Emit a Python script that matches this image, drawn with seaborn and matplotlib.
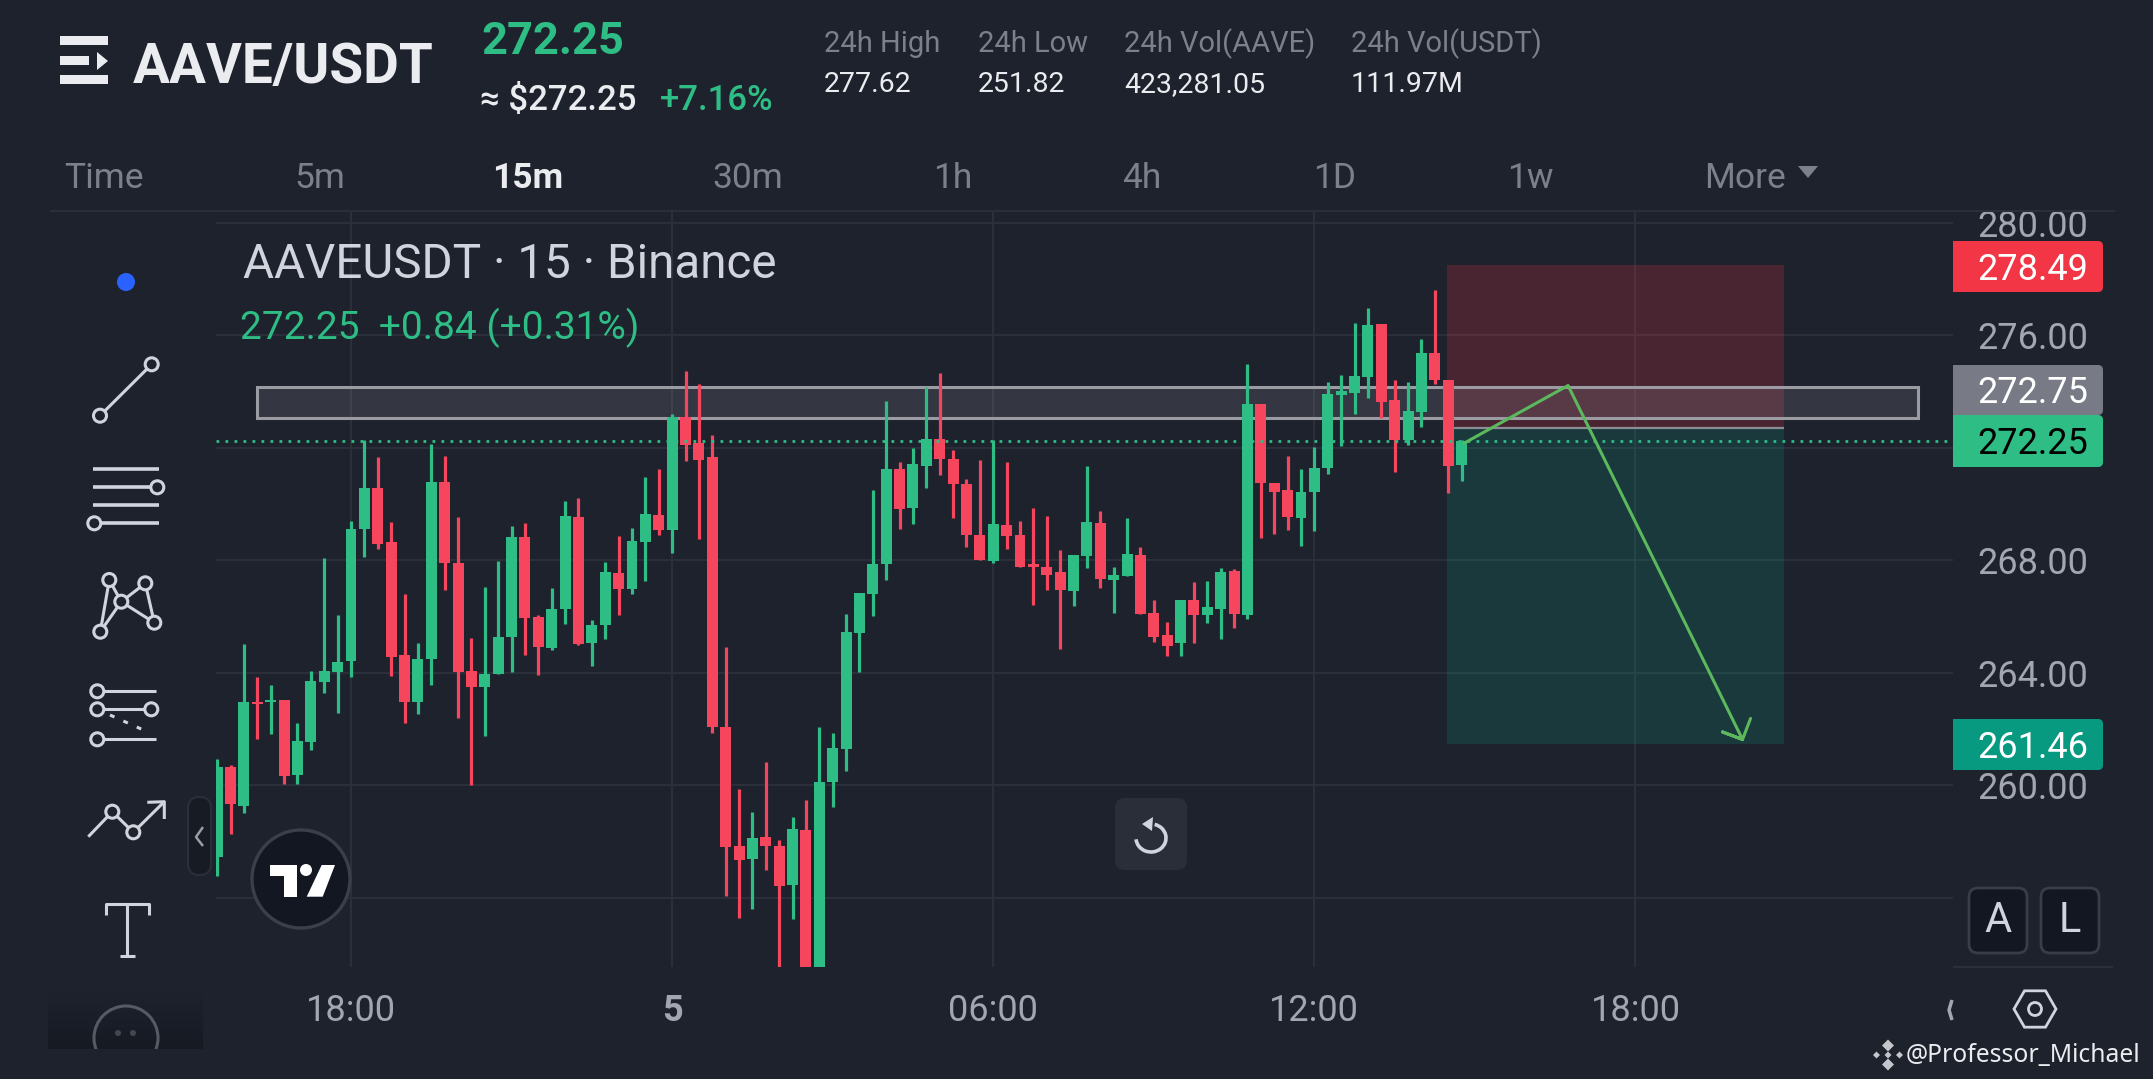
import numpy as np
import pandas as pd
import matplotlib
matplotlib.use("Agg")
import matplotlib.pyplot as plt
from matplotlib.patches import Circle, Rectangle, FancyBboxPatch, Polygon, Arc
import seaborn as sns

# candles, 15 min each, index 10 = 18:00
opens = [257.45,260.66,259.26,262.96,262.95,263.03,260.37,261.53,263.68,264.03,
         264.44,269.10,270.58,268.64,264.63,262.96,264.49,270.80,267.91,264.06,
         263.49,263.95,265.27,268.83,265.98,264.87,266.27,269.55,265.06,265.70,
         267.56,266.99,268.66,269.63,269.09,273.09,272.19,271.69,262.09,257.86,
         257.38,258.15,257.86,256.45,258.40,253.00,260.12,261.29,265.43,266.81,
         267.86,271.26,269.87,271.36,272.33,271.61,270.72,268.91,267.99,269.26,
         268.91,267.86,267.77,267.59,266.92,268.16,269.34,267.32,267.45,268.20,
         266.13,265.35,265.06,266.59,266.06,266.27,267.62,266.05,273.55,270.77,
         270.49,269.49,270.42,271.29,273.87,273.97,274.51,276.39,273.69,272.27,
         273.26,275.39,274.43,271.41]
closes = [260.66,259.34,262.96,262.88,263.03,260.34,261.57,263.71,264.06,264.38,
          269.12,270.58,268.59,264.57,262.96,264.51,270.80,267.89,264.03,263.49,
          263.95,265.27,268.83,265.95,264.92,266.26,269.58,265.01,265.70,267.59,
          266.99,268.69,269.66,269.09,273.09,272.11,271.58,262.07,257.80,257.35,
          258.11,257.83,256.41,258.43,253.00,260.12,261.32,265.46,266.84,267.88,
          271.26,269.83,271.44,272.33,271.61,270.71,268.91,268.02,269.31,268.88,
          267.77,267.75,267.48,266.95,268.20,269.37,267.35,267.48,268.23,266.10,
          265.27,264.95,266.59,266.06,266.35,267.59,266.08,273.55,270.74,270.42,
          269.53,270.45,271.27,273.90,274.01,274.54,276.36,273.65,272.27,273.30,
          275.39,274.40,271.34,272.25]
highs = [260.95,260.74,265.03,263.85,263.57,263.03,262.22,264.05,268.08,266.06,
         269.40,272.27,271.69,269.37,266.81,265.06,272.15,271.73,269.55,265.24,
         267.05,267.99,269.23,269.34,266.06,267.02,270.12,270.23,265.87,267.94,
         268.88,269.15,270.98,271.26,273.22,274.75,274.29,272.47,264.92,259.86,
         259.04,260.82,258.04,258.88,259.47,262.07,261.85,266.09,266.84,270.52,
         273.68,271.50,272.01,274.16,274.68,271.93,270.88,271.58,272.27,271.50,
         269.39,269.87,269.58,268.37,268.20,271.36,269.77,267.77,269.52,268.48,
         266.59,265.81,266.59,267.24,267.27,267.73,267.70,275.00,273.55,270.77,
         271.73,271.24,272.02,274.33,274.58,276.46,276.96,276.39,274.43,274.36,
         275.86,277.63,274.43,272.27]
lows = [256.76,258.27,259.02,261.64,261.82,260.05,260.05,261.26,263.28,262.57,
        263.84,268.13,268.40,263.89,262.22,262.54,263.57,266.94,262.39,260.02,
        261.77,263.95,264.03,264.63,263.92,264.82,265.73,264.98,264.24,265.19,
        266.06,266.81,267.27,268.91,268.26,271.55,268.75,261.85,256.08,255.30,
        255.62,257.00,253.00,255.24,253.00,253.00,259.23,260.50,264.03,266.03,
        267.30,269.12,269.29,270.58,271.03,269.51,268.48,268.02,267.89,268.40,
        267.75,266.41,266.95,264.84,266.38,267.73,267.02,266.13,267.45,266.08,
        265.10,264.60,264.60,265.05,265.78,265.21,265.59,265.90,268.81,268.95,
        269.07,268.52,269.03,271.09,272.07,273.19,273.76,273.07,271.16,272.12,
        272.73,274.26,270.38,270.84]

# price axis and time axis
price_grid = [256, 260, 264, 268, 272, 276, 280]
price_labels = ["", "260.00", "264.00", "268.00", "", "276.00", "280.00"]
time_ticks = [10, 34, 58, 82, 106]
time_labels = ["18:00", "5", "06:00", "12:00", "18:00"]

# drawings on the chart
last_price = 272.25
stop_price = 278.49
entry_price = 272.72
target_price = 261.46
zone_start, zone_end = 91.9, 117.1
band_start, band_end = 2.95, 127.1
band_low, band_high = 273.06, 274.17
path_x = [93.2, 100.96, 114.0, 112.5, 114.0, 114.6]
path_y = [272.17, 274.22, 261.63, 261.9, 261.63, 262.38]

# header texts
stat_names = ["24h High", "24h Low", "24h Vol(AAVE)", "24h Vol(USDT)"]
stat_values = ["277.62", "251.82", "423,281.05", "111.97M"]
stat_lefts = [824, 978, 1124, 1351]
intervals = ["5m", "15m", "30m", "1h", "4h", "1D", "1w", "More"]
interval_centers = [320, 528, 748, 953, 1142, 1335, 1530, 1745]

BG = "#1e222d"
GRID = "#2b2f3a"
UP = "#2ebd85"
DOWN = "#f6465d"
ICON = "#d1d4dc"
GREY = "#a3a6af"
DIM = "#7c808a"

sns.set_theme(style="dark", rc={"axes.facecolor": BG, "figure.facecolor": BG})
plt.rcParams["font.family"] = ["Roboto", "DejaVu Sans"]

W, H = 2153, 1079
fig = plt.figure(figsize=(W / 100, H / 100), dpi=100)
ax = fig.add_axes([216 / W, 1 - 967 / H, (1953 - 216) / W, (967 - 212) / H])

df = pd.DataFrame({"i": np.arange(len(opens)), "o": opens, "c": closes, "h": highs, "l": lows})
df["up"] = df.c >= df.o
df["bottom"] = df[["o", "c"]].min(axis=1)
df["body"] = (df.c - df.o).abs().clip(lower=0.06)

# wicks
wicks = df.melt(id_vars=["i", "up"], value_vars=["h", "l"], value_name="price")
wicks["dir"] = wicks.up.map({True: "up", False: "down"})
sns.lineplot(data=wicks, x="i", y="price", units="i", hue="dir", estimator=None, sort=False,
             palette={"up": UP, "down": DOWN}, linewidth=2.3, legend=False, ax=ax, zorder=4,
             solid_capstyle="butt")

# bodies
for flag, col in [(True, UP), (False, DOWN)]:
    part = df[df.up == flag]
    sns.barplot(data=part, x="i", y="body", bottom=part.bottom.values, native_scale=True,
                color=col, saturation=1, width=0.82, errorbar=None, linewidth=0, ax=ax, zorder=5)

# position tool and band under the candles
ax.add_patch(Rectangle((zone_start, entry_price), zone_end - zone_start, stop_price - entry_price,
                       fc="#f23645", alpha=0.2, lw=0, zorder=1))
ax.add_patch(Rectangle((zone_start, target_price), zone_end - zone_start, entry_price - target_price,
                       fc="#089981", alpha=0.2, lw=0, zorder=1))
ax.plot([zone_start + 0.5, zone_end], [entry_price, entry_price], color="#8b8d94", lw=1.6, zorder=2,
        solid_capstyle="butt")
ax.add_patch(Rectangle((band_start, band_low), band_end - band_start, band_high - band_low,
                       fc=(0.70, 0.71, 0.75, 0.15), ec="#9b9ca3", lw=2.2, zorder=3))

ax.axhline(last_price, color=UP, lw=2, ls=(0, (1, 2.24)), zorder=6)
sns.lineplot(x=path_x, y=path_y, sort=False, estimator=None, color="#5cb85c", linewidth=2.2, ax=ax, zorder=7)

ax.set_xlim(-0.09, 129.73)
ax.set_ylim(253.54, 280.39)
ax.set(xlabel="", ylabel="")
ax.yaxis.tick_right()
ax.set_yticks(price_grid, price_labels)
ax.set_xticks(time_ticks, time_labels)
ax.tick_params(axis="y", length=0, pad=17.5, labelsize=26, labelcolor=GREY, labelright=True, labelleft=False)
ax.tick_params(axis="x", length=0, pad=19, labelsize=26, labelcolor=GREY)
for lab in ax.get_xticklabels():
    if lab.get_text() == "5":
        lab.set_fontweight("bold")
ax.grid(True, color=GRID, lw=1.5, zorder=0)
ax.set_axisbelow(True)
sns.despine(ax=ax, left=True, right=True, top=True, bottom=True)

# screen chrome, in pixel coordinates
ui = fig.add_axes([0, 0, 1, 1], zorder=10)
ui.set_xlim(0, W)
ui.set_ylim(H, 0)
ui.axis("off")
ui.patch.set_alpha(0)


def txt(x, y, s, size, color, ha="left", weight="normal", dy=3, **kw):
    ui.text(x, y + dy, s, fontsize=size, color=color, ha=ha, va="center", fontweight=weight, **kw)


def line(xs, ys, color=ICON, lw=2.2, **kw):
    ui.plot(xs, ys, color=color, lw=lw, solid_capstyle=kw.pop("cap", "butt"), **kw)


def ring(x, y, r=6.5):
    ui.add_patch(Circle((x, y), r, fc=BG, ec=ICON, lw=2.2, zorder=5))


def round_box(x0, y0, x1, y1, r, fc, ec="none", lw=0, zorder=3):
    ui.add_patch(FancyBboxPatch((x0 + r, y0 + r), x1 - x0 - 2 * r, y1 - y0 - 2 * r,
                                boxstyle=f"round,pad={r},rounding_size={r}", fc=fc, ec=ec, lw=lw, zorder=zorder))


# top line of the chart block
line([50, 2115], [211, 211], color=GRID, lw=1.5)
line([1953, 2113], [967, 967], color=GRID, lw=1.5)

# menu icon and pair
ui.add_patch(Rectangle((60, 36), 48, 9, fc="#eaecef", lw=0))
ui.add_patch(Rectangle((60, 56), 29, 9, fc="#eaecef", lw=0))
ui.add_patch(Rectangle((60, 75), 48, 9, fc="#eaecef", lw=0))
ui.add_patch(Polygon([[97, 52], [108, 61], [97, 70]], fc="#eaecef", lw=0))
txt(133, 64, "AAVE/USDT", 39.5, "#eaecef", weight="bold", dy=4)
txt(481, 39, "272.25", 32.5, UP, weight="bold")
txt(480, 97, "≈ $272.25", 25, "#eaecef", weight="medium")
txt(660, 97, "+7.16%", 25, UP, weight="medium")
for left, name, val in zip(stat_lefts, stat_names, stat_values):
    txt(left, 41, name, 21, DIM)
    txt(left, 82, val, 20.5, "#eaecef")

# interval row
txt(64, 176, "Time", 25.5, DIM)
for cx, lab in zip(interval_centers, intervals):
    active = lab == "15m"
    txt(cx, 176, lab, 25.5, "#eaecef" if active else DIM, ha="center", weight="bold" if active else "normal")
ui.add_patch(Polygon([[1798, 166], [1818, 166], [1808, 178]], fc=DIM, lw=0))

# legend text on the chart
txt(243, 262, "AAVEUSDT · 15 · Binance", 34.3, ICON)
txt(240, 325, "272.25  +0.84 (+0.31%)", 28, UP)

# price badges
badges = [(241, 292, "278.49", "#f23645", "white"), (365, 415, "272.75", "#787b86", "white"),
          (415, 467, "272.25", UP, "black"), (719, 770, "261.46", "#089981", "white")]
for y0, y1, lab, col, tc in badges:
    round_box(1953, y0, 2103, y1, 5, col, zorder=3)
    ui.add_patch(Rectangle((1953, y0), 12, y1 - y0, fc=col, lw=0, zorder=3))
    txt(1977, (y0 + y1) / 2, lab, 26, tc, zorder=4)

# toolbar
ui.add_patch(Circle((126, 282), 9, fc="#2962ff", lw=0))
line([100, 151.7], [415.7, 364.3])
ring(100, 415.7)
ring(151.7, 364.3)
for y in [469.3, 487.3, 505.3, 523.3]:
    line([93, 159], [y, y], lw=2.6)
ring(157.3, 487.3)
ring(94.3, 523.3)
net = {"a": (109.3, 580), "b": (145.3, 583.3), "c": (121.3, 601.7), "d": (154.3, 622.7), "e": (100.3, 631.7)}
for p, q in ["ae", "ec", "ca", "cb", "bd", "cd"]:
    line([net[p][0], net[q][0]], [net[p][1], net[q][1]])
for x, y in net.values():
    ring(x, y)
for y, x1 in [(691.3, 156), (709.3, 151), (739.3, 156)]:
    line([97, x1], [y, y])
ring(97.3, 691.3)
ring(97.3, 709.3)
ring(151.3, 709.3)
ring(97.3, 739.3)
line([110, 150], [715, 733], lw=2.2, ls=(0, (1.6, 3.2)))
line([88.3, 112.3, 133.3, 164.3], [836.7, 811.7, 832.3, 801.7])
line([147.3, 164.3, 164.3], [802.3, 801.7, 819])
ring(112.3, 811.7)
ring(133.3, 832.3)
line([105.7, 105.7, 149.3, 149.3], [915, 904, 904, 915])
line([127.3, 127.3], [904, 955.7])
line([120, 135], [955.7, 955.7])

# faded box at the bottom of the toolbar
shade = np.linspace(0, 1, 40).reshape(-1, 1)
ui.imshow(shade, extent=(48, 203, 1049, 990), aspect="auto", zorder=1, origin="upper",
          cmap=matplotlib.colors.LinearSegmentedColormap.from_list("fade", [BG, "#161a23"]))
ui.set_xlim(0, W)
ui.set_ylim(H, 0)
clip = Rectangle((48, 990), 155, 59, transform=ui.transData)
arc = Circle((126, 1038), 32, fc="none", ec="#565a64", lw=2.2, zorder=2)
ui.add_patch(arc)
arc.set_clip_path(clip)
for x in [118, 133]:
    ui.add_patch(Circle((x, 1033), 3, fc="#44474f", lw=0, zorder=2))

# collapse handle
round_box(188, 797, 211, 875, 11, "#171b24", ec="#2b2f3a", lw=1.5)
line([203, 196, 203], [827, 837, 846], color="#9a9da6", lw=1.8, zorder=5)

# logo
ui.add_patch(Circle((301, 879), 49, fc="#131722", ec="#3c3f4a", lw=2.4))
ui.add_patch(Polygon([[270, 865], [296.7, 865], [296.7, 896.7], [284.3, 896.7], [284.3, 876], [270, 876]],
                     fc="white", lw=0, zorder=4))
ui.add_patch(Circle((306, 870), 6, fc="white", lw=0, zorder=4))
ui.add_patch(Polygon([[321.7, 865], [335, 865], [322.7, 896.7], [306.7, 896.7]], fc="white", lw=0, zorder=4))

# reset button
round_box(1115, 798, 1187, 870, 10, "#2a2e39")
ui.add_patch(Arc((1151, 838), 30, 28, theta1=-75, theta2=175, color=ICON, lw=2.6, zorder=5))
ui.add_patch(Polygon([[1142, 824], [1153, 817], [1152, 831]], fc=ICON, lw=0, zorder=5))

# A / L buttons and settings
for x0, x1, lab in [(1969, 2027, "A"), (2041, 2099, "L")]:
    round_box(x0, 888, x1, 953, 9, "#131722", ec="#3a3d47", lw=2)
    txt((x0 + x1) / 2, 920, lab, 30, ICON, ha="center", zorder=5, dy=0)
line([1952, 1949, 1952], [1000, 1010, 1020], color=GREY, lw=2.5)
hex_ang = np.deg2rad(np.arange(0, 360, 60))
ui.add_patch(Polygon(np.c_[2035 + 21 * np.cos(hex_ang), 1009 + 21 * np.sin(hex_ang)], fc="none", ec=ICON, lw=2))
ui.add_patch(Circle((2035, 1009), 6.5, fc="none", ec=ICON, lw=2))

# watermark
txt(1906, 1055, "@Professor_Michael", 17.8, "#eaecef", dy=0, family=["Noto Sans", "DejaVu Sans"])
for cx, cy, r in [(1888, 1045.5, 6), (1876.5, 1055, 3.5), (1899.5, 1055, 3.5), (1888, 1055, 3.5), (1888, 1064.5, 6)]:
    ui.add_patch(Polygon([[cx - r, cy], [cx, cy - r], [cx + r, cy], [cx, cy + r]], fc="#c4c6cc", lw=0))

fig.savefig("out.png", dpi=100, facecolor=BG)
